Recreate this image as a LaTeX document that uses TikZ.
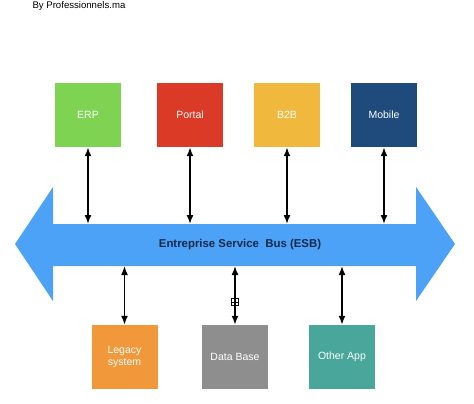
\documentclass[tikz,border=0pt]{standalone}
\usepackage{fontspec}
\setmainfont{Liberation Sans}
\usetikzlibrary{shapes, arrows.meta}

\definecolor{erpgreen}{HTML}{7ED452}
\definecolor{portalred}{HTML}{DB3A26}
\definecolor{btobyellow}{HTML}{F0B83C}
\definecolor{mobileblue}{HTML}{1E4A7C}
\definecolor{legacyorange}{HTML}{F0983A}
\definecolor{dbgrey}{HTML}{8E8E8E}
\definecolor{otherteal}{HTML}{48A69A}
\definecolor{busblue}{HTML}{4CA2F6}
\definecolor{bustext}{HTML}{14284A}

\begin{document}
\begin{tikzpicture}[x=1pt, y=-1pt,
    app/.style = {rectangle, minimum width=66pt, minimum height=64pt, inner sep=2pt, text=white, font=\fontsize{10.5}{12}\selectfont, align=center},
    link/.style = {{Latex[length=9pt, width=7pt]}-{Latex[length=9pt, width=7pt]}, line width=1.6pt}]
        \useasboundingbox (0, 0) rectangle (474, 404);

        \node[anchor=west, font=\fontsize{9.6}{10}\selectfont] at (29, 6) (credit) {By Professionnels.ma};

        % the bus
        \fill[busblue] (15, 244) -- (53, 187) -- (53, 224) -- (416, 224) -- (416, 187)
            -- (455, 244) -- (416, 301) -- (416, 266) -- (53, 266) -- (53, 301) -- cycle;
        \node[font=\bfseries\fontsize{11.4}{13}\selectfont, text=bustext] at (240, 245) (esb) {Entreprise Service\ \ Bus (ESB)};
        \coordinate (bustop) at (0, 224);
        \coordinate (busbot) at (0, 266);

        \node[app, fill=erpgreen] at (88, 115) (ERP) {ERP};
        \node[app, fill=portalred] at (190, 115) (Portal) {Portal};
        \node[app, fill=btobyellow] at (287, 115) (B2B) {B2B};
        \node[app, fill=mobileblue] at (384, 115) (Mobile) {Mobile};
        \node[app, fill=legacyorange] at (124.5, 357) (Legacy) {Legacy\\system};
        \node[app, fill=dbgrey] at (235, 357) (DB) {Data Base};
        \node[app, fill=otherteal] at (342, 357) (Other) {Other App};

        \draw [link] (ERP) -- (ERP |- bustop);
        \draw [link] (Portal) -- (Portal |- bustop);
        \draw [link] (B2B) -- (B2B |- bustop);
        \draw [link] (Mobile) -- (Mobile |- bustop);
        \draw [link] (Legacy) -- (Legacy |- busbot);
        \draw [link] (DB) -- (DB |- busbot);
        \draw [link] (Other) -- (Other |- busbot);

        % little handle on the data base link
        \draw[line width=0.5pt] (231.5, 298.5) rectangle (238.5, 305.5);
        \draw[line width=0.5pt] (231.5, 302) -- (238.5, 302);
        \end{tikzpicture}
\end{document}
